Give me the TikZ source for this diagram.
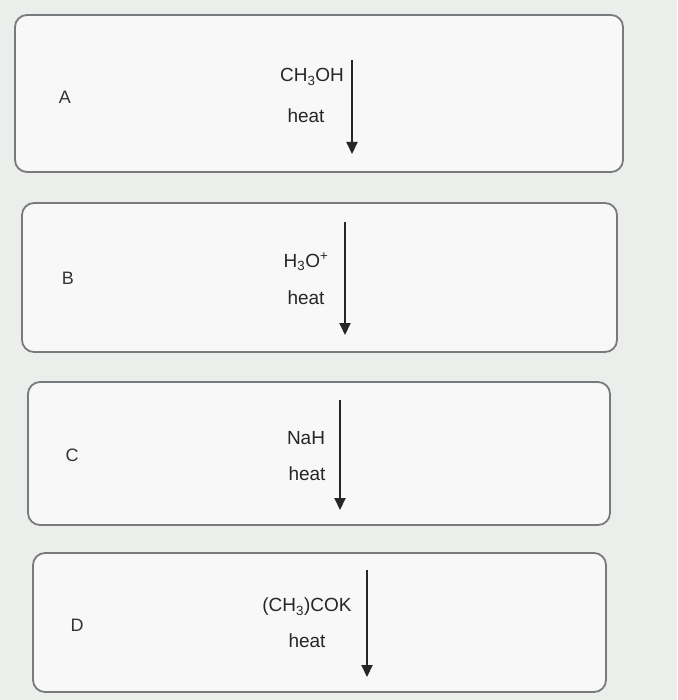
\documentclass[tikz,border=0pt]{standalone}
\usepackage{fontspec}
\setmainfont{Liberation Sans}
\usetikzlibrary{arrows.meta}
\definecolor{bg}{RGB}{236,238,236}
\definecolor{bord}{RGB}{120,122,125}
\begin{document}
\begin{tikzpicture}[x=1pt,y=-1pt,
  card/.style={draw=bord,line width=1.8pt,rounded corners=12pt,fill=white!60!bg},
  lbl/.style={font=\fontsize{18}{20}\selectfont,text=black!80},
  reag/.style={font=\fontsize{19}{22}\selectfont,text=black!85},
  rxn/.style={-{Triangle[length=12pt,width=11pt]},line width=2pt,black!85}]
\fill[bg] (0,0) rectangle (677,700);
\useasboundingbox (0,0) rectangle (677,700);
\draw[card] (15,15) rectangle (623,172);
\draw[card] (22,203) rectangle (617,352);
\draw[card] (28,382) rectangle (610,525);
\draw[card] (33,553) rectangle (606,692);
\node[lbl] (la) at (65,97) {A};
\node[lbl] (lb) at (68,278) {B};
\node[lbl] (lc) at (72,455) {C};
\node[lbl] (ld) at (77,625) {D};
\node[reag] (ra) at (312,77) {CH\textsubscript{3}OH};
\node[reag] (ha) at (306,116) {heat};
\node[reag] (rb) at (306,262) {H\textsubscript{3}O\textsuperscript{+}};
\node[reag] (hb) at (306,298) {heat};
\node[reag] (rc) at (306,438) {NaH};
\node[reag] (hc) at (307,474) {heat};
\node[reag] (rd) at (307,607) {(CH\textsubscript{3})COK};
\node[reag] (hd) at (307,641) {heat};
\coordinate (a1) at (352,60); \coordinate (a2) at (352,154);
\coordinate (b1) at (345,222); \coordinate (b2) at (345,335);
\coordinate (c1) at (340,400); \coordinate (c2) at (340,510);
\coordinate (d1) at (367,570); \coordinate (d2) at (367,677);
\draw[rxn] (a1) -- (a2);
\draw[rxn] (b1) -- (b2);
\draw[rxn] (c1) -- (c2);
\draw[rxn] (d1) -- (d2);
\end{tikzpicture}
\end{document}
